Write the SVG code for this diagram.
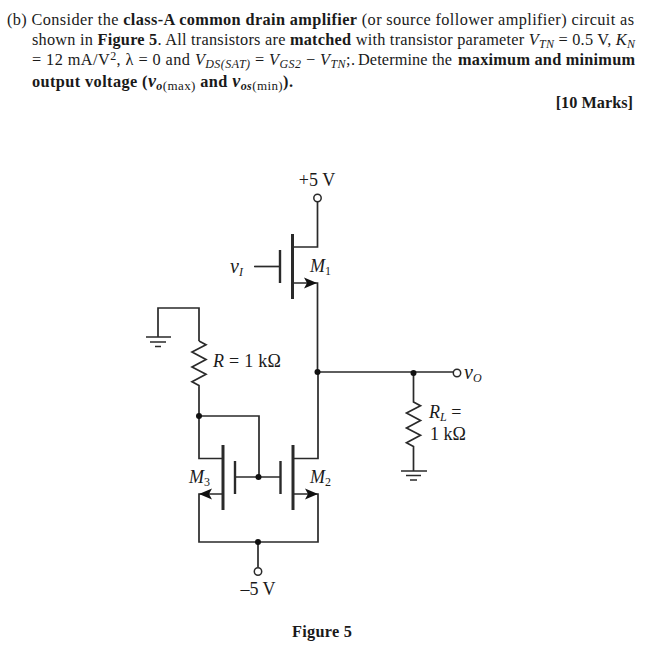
<svg xmlns="http://www.w3.org/2000/svg" width="656" height="657" viewBox="0 0 656 657">
<style>
text{font-family:"Liberation Serif","Times New Roman",serif;fill:#1a1a1a}
.q{font-size:16.3px}
.b{font-weight:bold}
.i{font-style:italic}
.l{font-size:18px}
.s{font-size:12px}
.n{font-size:13px;font-weight:normal;font-style:normal}
.w{fill:none;stroke:#2a2a2a;stroke-width:1.7;stroke-linejoin:miter}
.g{fill:none;stroke:#2a2a2a;stroke-width:2.4}
.c{fill:none;stroke:#2a2a2a;stroke-width:3}
.d{fill:#111}
.o{fill:#fff;stroke:#2a2a2a;stroke-width:1.5}
.a{fill:#111}
</style>
<rect width="656" height="657" fill="#fff"/>
<g id="question">
<text class="q" x="7" y="25" textLength="627" lengthAdjust="spacing">(b) Consider the <tspan class="b">class-A common drain amplifier</tspan> (or source follower amplifier) circuit as</text>
<text class="q" x="32" y="45" textLength="603" lengthAdjust="spacing">shown in <tspan class="b">Figure 5</tspan>. All transistors are <tspan class="b">matched</tspan> with transistor parameter <tspan class="i">V<tspan class="s" dy="3">TN</tspan></tspan><tspan dy="-3"> = 0.5 V, </tspan><tspan class="i">K<tspan class="s" dy="3">N</tspan></tspan></text>
<text class="q" x="32" y="65" textLength="323" lengthAdjust="spacing">= 12 mA/V<tspan class="s" dy="-5">2</tspan><tspan dy="5">, λ = 0 and </tspan><tspan class="i">V<tspan class="s" dy="3">DS(SAT)</tspan></tspan><tspan dy="-3"> = </tspan><tspan class="i">V<tspan class="s" dy="3">GS2</tspan></tspan><tspan dy="-3"> − </tspan><tspan class="i">V<tspan class="s" dy="3">TN</tspan></tspan><tspan dy="-3">;.</tspan></text>
<text class="q" x="358" y="65" textLength="94" lengthAdjust="spacing">Determine the</text>
<text class="q b" x="458" y="65" textLength="177" lengthAdjust="spacing">maximum and minimum</text>
<text class="q b" x="32" y="87" textLength="261" lengthAdjust="spacing">output voltage (<tspan class="i" font-size="18">v<tspan class="s" dy="3">o</tspan></tspan><tspan class="n" dy="0">(max)</tspan><tspan dy="-3"> and </tspan><tspan class="i" font-size="18">v<tspan class="s" dy="3">os</tspan></tspan><tspan class="n">(min)</tspan><tspan dy="-3">).</tspan></text>
<text class="q b" x="633" y="108" text-anchor="end">[10 Marks]</text>
</g>
<g id="connectors">
<path class="w" d="M317.500 202V247H293M293 283H317.500V372H453"/>
<path class="w" d="M254 266.500H280"/>
<path class="w" d="M199 341V308H158V337"/>
<path class="w" d="M199 341l7 3.700-14 7.400 14 7.400-14 7.400 14 7.400-14 7.400 7 3.700V458.500H223M199 416H259V477"/>
<path class="w" d="M235 477H281"/>
<path class="w" d="M293 458.500H318V372"/>
<path class="w" d="M223 494H199V542H318V494H293"/>
<path class="w" d="M258 542V567"/>
<path class="w" d="M413.500 373V402l7 3.700-14 7.400 14 7.400-14 7.400 14 7.400-14 7.400 7 3.700V471"/>
<path class="a" d="M317 283L304 277.500 307 283 304 288.500Z"/>
<path class="a" d="M199 494L212 488.500 209 494 212 499.500Z"/>
<path class="a" d="M318 494L305 488.500 308 494 305 499.500Z"/>
</g>
<g id="M1"><path class="c" d="M292.500 234V299"/><path class="g" d="M280 250V283"/><text class="l i" x="310" y="272">M<tspan class="s" font-style="normal" dy="3">1</tspan></text></g>
<g id="M2"><path class="c" d="M293 445V510"/><path class="g" d="M280.500 461V494"/><text class="l i" x="310" y="483">M<tspan class="s" font-style="normal" dy="3">2</tspan></text></g>
<g id="M3"><path class="c" d="M223 445V510"/><path class="g" d="M235 461V494"/><text class="l i" x="189" y="483">M<tspan class="s" font-style="normal" dy="3">3</tspan></text></g>
<g id="R"><text class="l" x="213" y="367" textLength="68"><tspan class="i">R</tspan> = 1 kΩ</text></g>
<g id="RL"><text class="l" x="429" y="418"><tspan class="i">R<tspan class="s" dy="3">L</tspan></tspan><tspan dy="-3"> =</tspan></text><text class="l" x="430" y="440">1 kΩ</text></g>
<g id="gnd1"><path class="w" d="M146 337H171M150 342H166M155 346.500H161"/></g>
<g id="gnd2"><path class="w" d="M401 471H427M406 475.500H421M410 480H417"/></g>
<g id="nodes">
<circle class="d" cx="317.500" cy="372" r="3"/>
<circle class="d" cx="413.500" cy="373" r="3"/>
<circle class="d" cx="199" cy="416" r="3"/>
<circle class="d" cx="258.500" cy="477" r="3"/>
<circle class="d" cx="258" cy="542" r="3"/>
</g>
<g id="vdd"><circle class="o" cx="317.500" cy="198" r="3.700"/><text class="l" x="317" y="186" text-anchor="middle">+5 V</text></g>
<g id="vss"><circle class="o" cx="258" cy="571.500" r="3.700"/><text class="l" x="258" y="595" text-anchor="middle">–5 V</text></g>
<g id="vi"><text class="i" font-size="20" x="230" y="273">v<tspan class="s" dy="3">I</tspan></text></g>
<g id="vo"><circle class="o" cx="457" cy="373" r="3.700"/><text class="i" font-size="20" x="464" y="379">v<tspan class="s" dy="3">O</tspan></text></g>
<g id="caption"><text class="q b" font-size="16.800" x="292" y="637" textLength="60">Figure 5</text></g>
</svg>
